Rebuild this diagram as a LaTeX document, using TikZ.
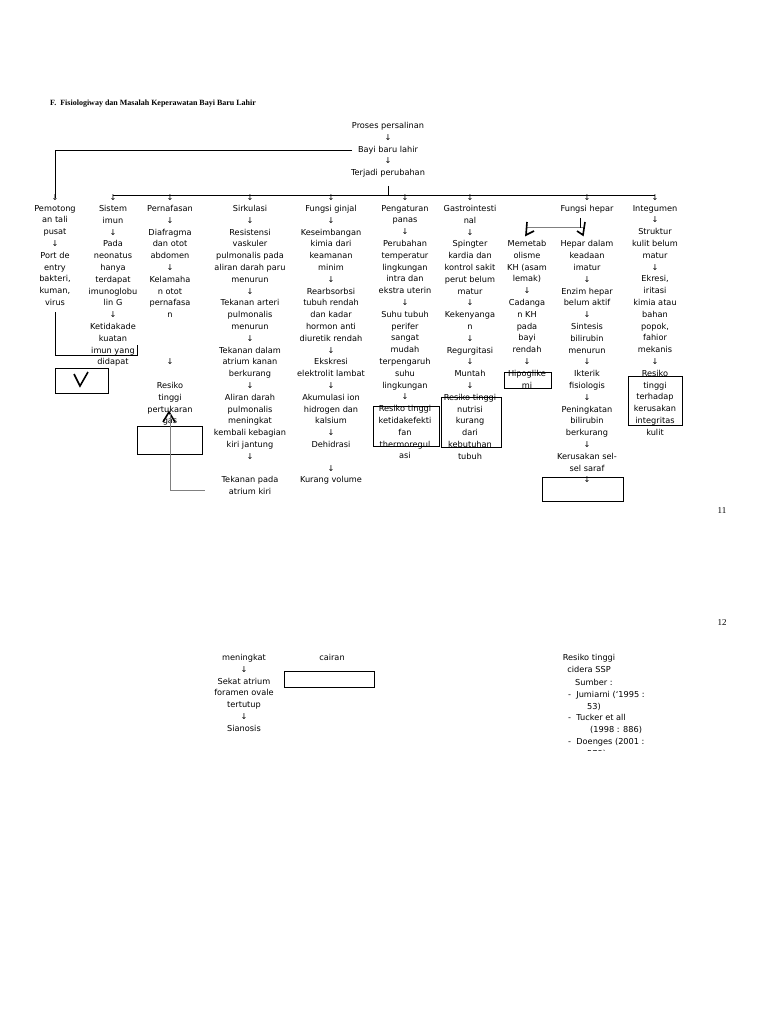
\documentclass[tikz,border=0pt]{standalone}
\usepackage{fontspec}
\setmainfont{DejaVu Sans}
\newfontfamily\titlefont{Liberation Serif}
\newcommand{\ft}{\fontsize{8.2}{11.8}\selectfont}
\begin{document}
\begin{tikzpicture}[x=1pt,y=-1pt,
  col/.style={align=center,font=\ft,inner sep=0pt,anchor=north},
  lt/.style={align=left,font=\ft,inner sep=0pt,anchor=north west},
  bx/.style={draw,line width=0.8pt},
  ln/.style={line width=0.8pt},
  ar/.style={ln,->,>=stealth}]
\useasboundingbox[fill=white] (0,0) rectangle (768,1024);
\node[font=\titlefont\bfseries\fontsize{8}{10}\selectfont,anchor=west,inner sep=0] (title) at (50,104) {F.\ \ Fisiologiway dan Masalah Keperawatan Bayi Baru Lahir};
\node[col] (top) at (388,122) {Proses persalinan\\↓\\Bayi baru lahir\\↓\\Terjadi perubahan};
\coordinate (bl) at (352,150);
\coordinate (bl0) at (55,150);
\coordinate (tr) at (388,186);
\coordinate (h0) at (388,195);
\draw[ln] (bl) -- (bl0) -- (55,198);
\draw[ln] (tr) -- (h0);
\draw[ln] (113,195) -- (655,195);
\foreach \x in {55,113,170,250,331,405,470,587,655}{\node[col] at (\x,194) {↓};}
% columns
\node[col] (c1) at (55,205) {Pemotong\\an tali\\pusat\\↓\\Port de\\entry\\bakteri,\\kuman,\\virus};
\node[col] (c2) at (113,205) {Sistem\\imun\\↓\\Pada\\neonatus\\hanya\\terdapat\\imunoglobu\\lin G\\↓\\Ketidakade\\kuatan\\imun yang\\didapat};
\node[col] (c3) at (170,205) {Pernafasan\\↓\\Diafragma\\dan otot\\abdomen\\↓\\Kelamaha\\n otot\\pernafasa\\n\\\mbox{}\\\mbox{}\\\mbox{}\\↓\\\mbox{}\\Resiko\\tinggi\\pertukaran\\gas};
\node[col] (c4) at (250,205) {Sirkulasi\\↓\\Resistensi\\vaskuler\\pulmonalis pada\\aliran darah paru\\menurun\\↓\\Tekanan arteri\\pulmonalis\\menurun\\↓\\Tekanan dalam\\atrium kanan\\berkurang\\↓\\Aliran darah\\pulmonalis\\meningkat\\kembali kebagian\\kiri jantung\\↓\\\mbox{}\\Tekanan pada\\atrium kiri};
\node[col] (c5) at (331,205) {Fungsi ginjal\\↓\\Keseimbangan\\kimia dari\\keamanan\\minim\\↓\\Rearbsorbsi\\tubuh rendah\\dan kadar\\hormon anti\\diuretik rendah\\↓\\Ekskresi\\elektrolit lambat\\↓\\Akumulasi ion\\hidrogen dan\\kalsium\\↓\\Dehidrasi\\\mbox{}\\↓\\Kurang volume};
\node[col] (c6) at (405,205) {Pengaturan\\panas\\↓\\Perubahan\\temperatur\\lingkungan\\intra dan\\ekstra uterin\\↓\\Suhu tubuh\\perifer\\sangat\\mudah\\terpengaruh\\suhu\\lingkungan\\↓\\Resiko tinggi\\ketidakefekti\\fan\\thermoregul\\asi};
\node[col] (c7) at (470,205) {Gastrointesti\\nal\\↓\\Spingter\\kardia dan\\kontrol sakit\\perut belum\\matur\\↓\\Kekenyanga\\n\\↓\\Regurgitasi\\↓\\Muntah\\↓\\Resiko tinggi\\nutrisi\\kurang\\dari\\kebutuhan\\tubuh};
\node[col] (c8) at (527,240) {Memetab\\olisme\\KH (asam\\lemak)\\↓\\Cadanga\\n KH\\pada\\bayi\\rendah\\↓\\Hipoglike\\mi};
\node[col] (c9) at (587,205) {Fungsi hepar\\\mbox{}\\\mbox{}\\Hepar dalam\\keadaan\\imatur\\↓\\Enzim hepar\\belum aktif\\↓\\Sintesis\\bilirubin\\menurun\\↓\\Ikterik\\fisiologis\\↓\\Peningkatan\\bilirubin\\berkurang\\↓\\Kerusakan sel-\\sel saraf\\↓};
\node[col] (c10) at (655,205) {Integumen\\↓\\Struktur\\kulit belum\\matur\\↓\\Ekresi,\\iritasi\\kimia atau\\bahan\\popok,\\fahior\\mekanis\\↓\\Resiko\\tinggi\\terhadap\\kerusakan\\integritas\\kulit};
% boxes
\draw[bx] (55,368) rectangle (108,393);
\draw[line width=1.6pt] (74,374) -- (80,386) -- (88,372);
\draw[ln] (55,312) -- (55,355) -- (137,355) -- (137,345);
\draw[bx] (137,426) rectangle (202,454);
\draw[line width=1.6pt] (163,422) -- (169,412) -- (175,422);
\draw[gray,line width=0.8pt] (170,414) -- (170,490) -- (205,490);
\draw[bx] (373,406) rectangle (439,446);
\draw[bx] (441,397) rectangle (501,447);
\draw[bx] (504,372) rectangle (551,388);
\draw[bx] (628,376) rectangle (682,425);
\draw[bx] (542,477) rectangle (623,501);
% hepar bracket
\draw[gray,line width=1pt] (527,228) -- (585,228);
\draw[ln] (580,218) -- (580,228);
\draw[line width=1.6pt] (527,222) -- (526,235) -- (534,231);
\draw[line width=1.6pt] (577,231) -- (583,235) -- (585,222);
% page numbers
\node[font=\titlefont\fontsize{9}{11}\selectfont,inner sep=0] (p11) at (722,511) {11};
\node[font=\titlefont\fontsize{9}{11}\selectfont,inner sep=0] (p12) at (722,623) {12};
% lower part
\node[col] (l1) at (244,654) {meningkat\\↓\\Sekat atrium\\foramen ovale\\tertutup\\↓\\Sianosis};
\node[col] (l2) at (332,654) {cairan};
\draw[bx] (284,671) rectangle (374,687);
\node[col] (l3) at (589,654) {Resiko tinggi\\cidera SSP};
\node[lt] (src) at (560,679) {\hspace*{15pt}Sumber :\\\hspace*{8pt}-\ \ Jumiarni (`1995 :\\\hspace*{27pt}53)\\\hspace*{8pt}-\ \ Tucker et all\\\hspace*{30pt}(1998 : 886)\\\hspace*{8pt}-\ \ Doenges (2001 :\\\hspace*{27pt}579)};
\fill[white] (555,751) rectangle (700,800);
\end{tikzpicture}
\end{document}
